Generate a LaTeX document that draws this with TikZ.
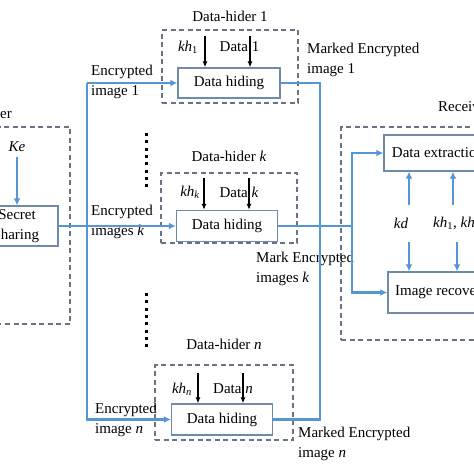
\documentclass[tikz,border=0pt]{standalone}
\usepackage{fontspec}
\setmainfont{Liberation Serif}
\usetikzlibrary{arrows.meta}
\usetikzlibrary{positioning}

\definecolor{lineblue}{RGB}{86,150,210}
\definecolor{boxline}{RGB}{112,138,172}
\definecolor{dashgray}{RGB}{105,115,135}

\begin{document}
\begin{tikzpicture}
[x=1pt,y=-1pt,%
  every node/.style={font=\fontsize{15}{20}\selectfont},%
  procbox/.style={draw=boxline,line width=1.4pt,inner sep=0pt,align=center},%
  groupbox/.style={draw=dashgray,line width=1.2pt,dash pattern=on 5pt off 3.5pt,inner sep=0pt},%
  lbl/.style={inner sep=0pt,align=left},%
  flow/.style={draw=lineblue,line width=2.9pt},%
  flowarr/.style={flow,-{Latex[length=7pt,width=7pt]}},%
  keyarr/.style={draw=black,line width=1.6pt,-{Latex[length=6pt,width=5pt]}},%
  dots/.style={draw=black,line width=3pt,dash pattern=on 3pt off 4.3pt}]
\useasboundingbox (0,0) rectangle (474,474);

\node[groupbox,minimum width=150pt,minimum height=197pt] (sender) at (-5,225.5) {};
\node[groupbox,minimum width=136pt,minimum height=73pt] (grp1) at (230,66.5) {};
\node[groupbox,minimum width=136pt,minimum height=70pt] (grpk) at (229,208) {};
\node[groupbox,minimum width=138pt,minimum height=75pt] (grpn) at (224,402.5) {};
\node[groupbox,minimum width=179pt,minimum height=213pt] (receiver) at (430.5,233.5) {};

\node[lbl,anchor=east] at (12,113) {Sender};
\node[lbl,anchor=west] at (438,107) {Receiver};
\node[lbl,above=8pt of grp1] {Data-hider 1};
\node[lbl,above=11pt of grpk] {Data-hider \textit{k}};
\node[lbl,above=15pt of grpn] {Data-hider \textit{n}};

\node[procbox,minimum width=82pt,minimum height=40pt] (secret) at (17,226) {Secret\\sharing};
\node[procbox,minimum width=102pt,minimum height=30pt] (hide1) at (229,83) {Data hiding};
\node[procbox,minimum width=101pt,minimum height=31pt] (hidek) at (227,226) {Data hiding};
\node[procbox,minimum width=101pt,minimum height=31pt] (hiden) at (222,419.5) {Data hiding};
\node[procbox,minimum width=108pt,minimum height=36pt] (dext) at (438,153) {Data extraction};
\node[procbox,minimum width=108pt,minimum height=41pt] (irec) at (442,292.5) {Image recovery};

\node[lbl] (ke) at (17,147) {\textit{Ke}};
\node[lbl] (kh1) at (188,47) {\textit{kh}\textsubscript{1}};
\node[lbl] (data1) at (239.5,47) {Data 1};
\node[lbl] (khk) at (190,192) {\textit{kh}\textsubscript{\textit{k}}};
\node[lbl] (datak) at (239,192) {Data \textit{k}};
\node[lbl] (khn) at (182,389) {\textit{kh}\textsubscript{\textit{n}}};
\node[lbl] (datan) at (233,389) {Data \textit{n}};
\node[lbl] (kd) at (401,223) {\textit{kd}};
\node[lbl,anchor=west] (khall) at (433,223) {\textit{kh}\textsubscript{1}, \textit{kh}\textsubscript{\textit{n}}};

\node[lbl,anchor=west] at (91,82) {Encrypted\\image 1};
\node[lbl,anchor=west] at (91,222) {Encrypted\\images \textit{k}};
\node[lbl,anchor=west] at (95,420) {Encrypted\\image \textit{n}};
\node[lbl,anchor=west] at (307,60) {Marked Encrypted\\image 1};
\node[lbl,anchor=west] at (256,269) {Mark Encrypted\\images \textit{k}};
\node[lbl,anchor=west] at (298,444) {Marked Encrypted\\image \textit{n}};

\coordinate (kh1top) at (205,36);
\coordinate (data1top) at (250,36);
\coordinate (khktop) at (204,178);
\coordinate (dataktop) at (249,178);
\coordinate (khntop) at (198,373);
\coordinate (datantop) at (243,373);
\draw[keyarr] (kh1top) -- (kh1top |- hide1.north);
\draw[keyarr] (data1top) -- (data1top |- hide1.north);
\draw[keyarr] (khktop) -- (khktop |- hidek.north);
\draw[keyarr] (dataktop) -- (dataktop |- hidek.north);
\draw[keyarr] (khntop) -- (khntop |- hiden.north);
\draw[keyarr] (datantop) -- (datantop |- hiden.north);

\draw[dots] (146,133) -- (146,189);
\draw[dots] (146,293) -- (146,349);

\coordinate (lbus) at (87,83);
\coordinate (rbus) at (320,83);
\coordinate (rsplit) at (352,226);
\draw[flowarr,line width=2.2pt,shorten <=5pt] (ke) -- (secret);
\draw[flowarr] (secret) -- (hidek);
\draw[flowarr] (lbus) -- (hide1);
\draw[flowarr] (lbus) |- (hiden);
\draw[flow] (hide1) -| (rbus |- hiden) -- (hiden);
\draw[flow] (hidek) -- (rsplit);
\draw[flowarr] (rsplit) |- (dext);
\draw[flowarr] (rsplit) |- (irec);

\coordinate (kdup) at (409,205);
\coordinate (kddown) at (409,242);
\coordinate (khup) at (453,205);
\coordinate (khdown) at (457,242);
\draw[flowarr] (kdup) -- (kdup |- dext.south);
\draw[flowarr] (kddown) -- (kddown |- irec.north);
\draw[flowarr] (khup) -- (khup |- dext.south);
\draw[flowarr] (khdown) -- (khdown |- irec.north);
\end{tikzpicture}
\end{document}
